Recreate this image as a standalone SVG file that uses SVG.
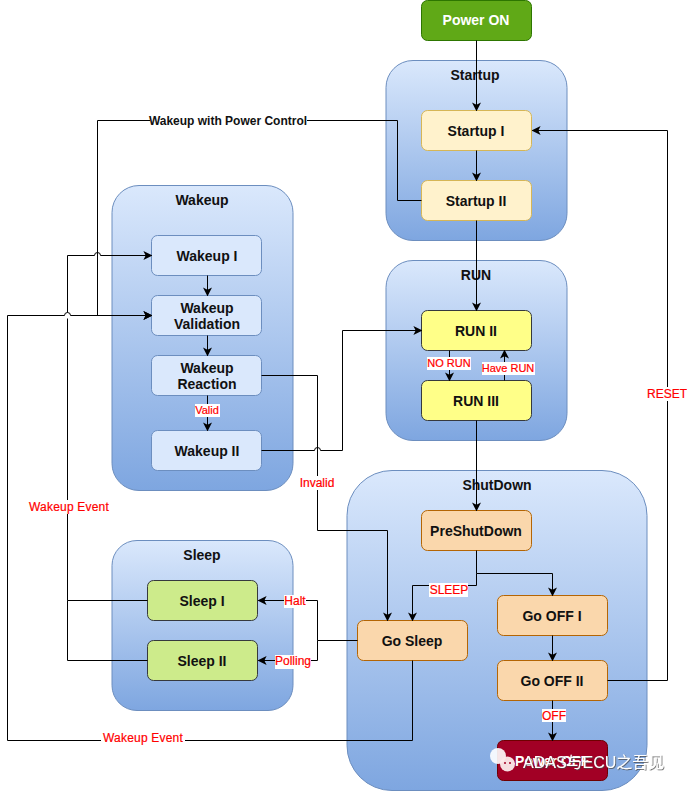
<svg xmlns="http://www.w3.org/2000/svg" width="687" height="791" viewBox="0 0 687 791">
<style>
text{font-family:"Liberation Sans",Arial,"Noto Sans CJK SC",sans-serif}
.t{font-size:14px;font-weight:bold;fill:#111;text-anchor:middle}
.l{font-size:12px;fill:#ff0000;stroke:#ff0000;stroke-width:.2px;text-anchor:middle}
.lb{fill:#fff}
.g{fill:url(#gb);stroke:#6c8ebf}
.blue{fill:#dae8fc;stroke:#6c8ebf}
.cream{fill:#fff2cc;stroke:#d6b656}
.yel{fill:#ffff88;stroke:#36393d}
.or{fill:#fad7ac;stroke:#b46504}
.gr{fill:#cdeb8b;stroke:#36393d}
#c path{fill:none;stroke:#000;stroke-width:1}
.a{marker-end:url(#ah)}
</style>
<defs>
<linearGradient id="gb" x1="0" y1="0" x2="0" y2="1"><stop offset="0" stop-color="#dae8fc"/><stop offset="1" stop-color="#7ea6e0"/></linearGradient>
<marker id="ah" viewBox="0 0 10 10" refX="9" refY="5" markerWidth="9" markerHeight="9" markerUnits="userSpaceOnUse" orient="auto"><path d="M0 0L10 5L0 10L2.5 5Z" fill="#000"/></marker>
<filter id="sh" x="-5%" y="-20%" width="110%" height="140%"><feDropShadow dx=".7" dy=".7" stdDeviation=".3" flood-color="#444"/></filter>
</defs>
<rect width="687" height="791" fill="#fff"/>
<g id="group-startup"><rect class="g" x="386" y="60.500" width="181" height="180" rx="27"/><text class="t" x="475" y="80">Startup</text></g>
<g id="group-run"><rect class="g" x="386" y="260.500" width="181" height="180" rx="27"/><text class="t" x="476" y="280">RUN</text></g>
<g id="group-shutdown"><rect class="g" x="347" y="470.500" width="300" height="320" rx="45"/><text class="t" x="497" y="490">ShutDown</text></g>
<g id="group-wakeup"><rect class="g" x="112" y="185.500" width="181" height="305" rx="27"/><text class="t" x="202" y="205">Wakeup</text></g>
<g id="group-sleep"><rect class="g" x="112" y="540.500" width="181" height="170" rx="25"/><text class="t" x="202" y="560">Sleep</text></g>

<g id="power-on"><rect x="421.500" y="0.500" width="110" height="40" rx="6" fill="#60a917" stroke="#2d7600"/><text class="t" x="476" y="25" style="fill:#fff">Power ON</text></g>
<g id="startup-1"><rect class="cream" x="421.500" y="110.500" width="110" height="40" rx="6"/><text class="t" x="476" y="136">Startup I</text></g>
<g id="startup-2"><rect class="cream" x="421.500" y="180.500" width="110" height="40" rx="6"/><text class="t" x="476" y="206">Startup II</text></g>
<g id="run-2"><rect class="yel" x="421.500" y="310.500" width="110" height="40" rx="6"/><text class="t" x="476" y="336">RUN II</text></g>
<g id="run-3"><rect class="yel" x="421.500" y="380.500" width="110" height="40" rx="6"/><text class="t" x="476" y="406">RUN III</text></g>
<g id="preshutdown"><rect class="or" x="421.500" y="510.500" width="110" height="40" rx="6"/><text class="t" x="476" y="536">PreShutDown</text></g>
<g id="go-off-1"><rect class="or" x="497.500" y="595.500" width="110" height="40" rx="6"/><text class="t" x="552" y="621">Go OFF I</text></g>
<g id="go-off-2"><rect class="or" x="497.500" y="660.500" width="110" height="40" rx="6"/><text class="t" x="552" y="686">Go OFF II</text></g>
<g id="go-sleep"><rect class="or" x="357.500" y="620.500" width="110" height="40" rx="6"/><text class="t" x="412" y="646">Go Sleep</text></g>
<g id="power-off"><rect x="497.500" y="740.500" width="110" height="40" rx="6" fill="#a20025" stroke="#6f0000"/><text class="t" x="552" y="766" style="fill:#fff">Power OFF</text></g>
<g id="wakeup-1"><rect class="blue" x="151.500" y="235.500" width="110" height="40" rx="6"/><text class="t" x="207" y="261">Wakeup I</text></g>
<g id="wakeup-validation"><rect class="blue" x="151.500" y="295.500" width="110" height="40" rx="6"/><text class="t" x="207" y="313">Wakeup</text><text class="t" x="207" y="329">Validation</text></g>
<g id="wakeup-reaction"><rect class="blue" x="151.500" y="355.500" width="110" height="40" rx="6"/><text class="t" x="207" y="373">Wakeup</text><text class="t" x="207" y="389">Reaction</text></g>
<g id="wakeup-2"><rect class="blue" x="151.500" y="430.500" width="110" height="40" rx="6"/><text class="t" x="207" y="456">Wakeup II</text></g>
<g id="sleep-1"><rect class="gr" x="147.500" y="580.500" width="110" height="40" rx="6"/><text class="t" x="202" y="606">Sleep I</text></g>
<g id="sleep-2"><rect class="gr" x="147.500" y="640.500" width="110" height="40" rx="6"/><text class="t" x="202" y="666">Sleep II</text></g>

<g id="c" transform="translate(.5 .5)">
<path class="a" d="M476 40V110"/>
<path class="a" d="M476 150V180"/>
<path class="a" d="M476 220V310"/>
<path class="a" d="M449 350V380"/>
<path class="a" d="M504 380V350"/>
<path class="a" d="M476 420V510"/>
<path class="a" d="M207 275V295"/>
<path class="a" d="M207 335V355"/>
<path class="a" d="M207 395V430"/>
<path class="a" d="M552 635V660"/>
<path class="a" d="M421 200H397V120H97V315H151"/>
<path class="a" d="M412 660V740H7V315H64a3 3 0 0 1 6 0H151"/>
<path class="a" d="M147 600H67V318M67 312V255H94a3 3 0 0 1 6 0H151"/>
<path d="M147 660H67V600"/>
<path class="a" d="M261 375H317V530H387V620"/>
<path class="a" d="M261 450H314a3 3 0 0 1 6 0H342V330H421"/>
<path class="a" d="M476 550V573H552V595"/>
<path class="a" d="M476 573V585H412V620"/>
<path class="a" d="M357 640H317V600H258"/>
<path class="a" d="M317 640V660H258"/>
<path class="a" d="M552 700V740"/>
<path class="a" d="M607 680H667V130H532"/>
</g>
<g id="labels">
<rect class="lb" x="150" y="114" width="157" height="14"/><text x="228" y="125" style="font-size:12px;font-weight:bold;fill:#111;text-anchor:middle">Wakeup with Power Control</text>
<rect class="lb" x="27" y="500" width="84" height="14"/><text class="l" x="69" y="511" style="letter-spacing:.2px">Wakeup Event</text>
<rect class="lb" x="101" y="731" width="84" height="14"/><text class="l" x="143" y="742" style="letter-spacing:.2px">Wakeup Event</text>
<rect class="lb" x="195" y="404" width="25" height="13"/><text class="l" x="207" y="414" style="font-size:11px">Valid</text>
<rect class="lb" x="298" y="476" width="39" height="14"/><text class="l" x="317" y="487">Invalid</text>
<rect class="lb" x="427" y="357" width="44" height="13"/><text class="l" x="449" y="367" style="font-size:11px">NO RUN</text>
<rect class="lb" x="482" y="362" width="53" height="13"/><text class="l" x="508" y="372" style="font-size:11px">Have RUN</text>
<rect class="lb" x="429" y="583" width="39" height="14"/><text class="l" x="449" y="594">SLEEP</text>
<rect class="lb" x="284" y="595" width="22" height="13"/><text class="l" x="295" y="605">Halt</text>
<rect class="lb" x="275" y="655" width="36" height="14"/><text class="l" x="293" y="665">Polling</text>
<rect class="lb" x="542" y="709" width="24" height="13"/><text class="l" x="554" y="720">OFF</text>
<rect class="lb" x="647" y="387" width="41" height="14"/><text class="l" x="667" y="398">RESET</text>
</g>
<g id="watermark">
<circle cx="498" cy="756" r="8" fill="#fff" fill-opacity=".9"/><circle cx="507.500" cy="764" r="7.500" fill="#fbeaea" fill-opacity=".95"/>
<circle cx="505" cy="763" r="1" fill="#a20025"/><circle cx="510" cy="763" r="1" fill="#a20025"/>
<text x="523" y="768" filter="url(#sh)" style="font-size:16px;fill:#fff">ADAS与ECU之吾见</text>
</g>
</svg>
